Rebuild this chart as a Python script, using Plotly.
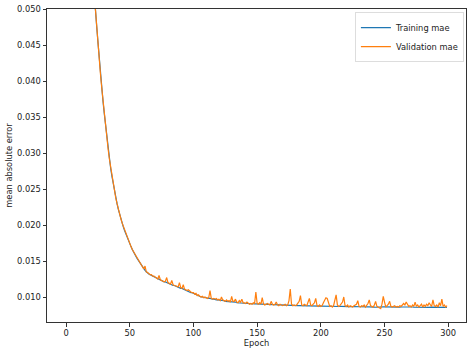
import plotly.graph_objects as go

epochs = list(range(300))

training_mae = [
    0.4800, 0.3100, 0.2400, 0.1980, 0.1700, 0.1490, 0.1330, 0.1200, 0.1100, 0.1020,
    0.0960, 0.0900, 0.0848, 0.0800, 0.0757, 0.0717, 0.0680, 0.0647, 0.0620, 0.0594,
    0.0570, 0.0545, 0.0522, 0.0500, 0.0477, 0.0455, 0.0432, 0.0410, 0.0390, 0.0372,
    0.0355, 0.0338, 0.0321, 0.0305, 0.0292, 0.0279, 0.0268, 0.0257, 0.0247, 0.0238,
    0.0230, 0.0222, 0.0215, 0.0209, 0.0203, 0.0197, 0.0192, 0.0187, 0.0182, 0.0178,
    0.0174, 0.0170, 0.0166, 0.0162, 0.0159, 0.0156, 0.0153, 0.0150, 0.0147, 0.0144,
    0.0141, 0.0139, 0.0137, 0.0135, 0.0133, 0.0132, 0.0131, 0.0130, 0.0129, 0.0128,
    0.0127, 0.0126, 0.0125, 0.0124, 0.0124, 0.0123, 0.0122, 0.0121, 0.0121, 0.0120,
    0.0119, 0.0119, 0.0118, 0.0117, 0.0116, 0.0116, 0.0115, 0.0114, 0.0114, 0.0113,
    0.0112, 0.0112, 0.0111, 0.0110, 0.0109, 0.0109, 0.0108, 0.0107, 0.0106, 0.0106,
    0.0105, 0.0104, 0.0103, 0.0102, 0.0102, 0.0101, 0.0100, 0.0100, 0.0099, 0.0099,
    0.0099, 0.0098, 0.0098, 0.0098, 0.0097, 0.0097, 0.0097, 0.0096, 0.0096, 0.0096,
    0.0096, 0.0095, 0.0095, 0.0095, 0.0095, 0.0094, 0.0094, 0.0094, 0.0094, 0.0093,
    0.0093, 0.0093, 0.0093, 0.0093, 0.0092, 0.0092, 0.0092, 0.0092, 0.0092, 0.0091,
    0.00915, 0.00913, 0.00911, 0.00910, 0.00908, 0.00907, 0.00905, 0.00904, 0.00903, 0.00902,
    0.00901, 0.00900, 0.00899, 0.00898, 0.00897, 0.00896, 0.00896, 0.00895, 0.00894, 0.00893,
    0.00892, 0.00891, 0.00891, 0.00890, 0.00889, 0.00889, 0.00888, 0.00887, 0.00887, 0.00886,
    0.00886, 0.00885, 0.00885, 0.00884, 0.00884, 0.00883, 0.00883, 0.00882, 0.00882, 0.00881,
    0.00881, 0.00880, 0.00880, 0.00880, 0.00879, 0.00879, 0.00878, 0.00878, 0.00878, 0.00877,
    0.00877, 0.00877, 0.00876, 0.00876, 0.00876, 0.00875, 0.00875, 0.00875, 0.00874, 0.00874,
    0.00874, 0.00873, 0.00873, 0.00873, 0.00873, 0.00872, 0.00872, 0.00872, 0.00871, 0.00871,
    0.00871, 0.00870, 0.00872, 0.00869, 0.00870, 0.00868, 0.00871, 0.00869, 0.00868, 0.00869,
    0.00867, 0.00868, 0.00866, 0.00868, 0.00867, 0.00866, 0.00867, 0.00865, 0.00866, 0.00867,
    0.00865, 0.00866, 0.00864, 0.00866, 0.00865, 0.00864, 0.00865, 0.00863, 0.00864, 0.00865,
    0.00863, 0.00862, 0.00860, 0.00858, 0.00857, 0.00856, 0.00857, 0.00858, 0.00860, 0.00862,
    0.00863, 0.00862, 0.00864, 0.00863, 0.00862, 0.00861, 0.00863, 0.00862, 0.00861, 0.00862,
    0.00861, 0.00862, 0.00860, 0.00861, 0.00862, 0.00860, 0.00861, 0.00860, 0.00859, 0.00861,
    0.00860, 0.00859, 0.00861, 0.00860, 0.00859, 0.00860, 0.00858, 0.00859, 0.00860, 0.00858,
    0.00859, 0.00858, 0.00860, 0.00859, 0.00858, 0.00857, 0.00859, 0.00858, 0.00857, 0.00858,
    0.00857, 0.00858, 0.00856, 0.00858, 0.00857, 0.00856, 0.00857, 0.00858, 0.00856, 0.00857,
]

validation_mae = [
    0.4200, 0.2800, 0.2250, 0.1900, 0.1640, 0.1450, 0.1300, 0.1180, 0.1085, 0.1005,
    0.0945, 0.0890, 0.0840, 0.0795, 0.0752, 0.0714, 0.0678, 0.0645, 0.0617, 0.0592,
    0.0568, 0.0544, 0.0521, 0.0499, 0.0476, 0.0454, 0.0432, 0.0410, 0.0391, 0.0372,
    0.0355, 0.0338, 0.0321, 0.0306, 0.0292, 0.0280, 0.0268, 0.0257, 0.0248, 0.0238,
    0.0230, 0.0222, 0.0215, 0.0209, 0.0203, 0.0198, 0.0192, 0.0187, 0.0183, 0.0178,
    0.0174, 0.0170, 0.0166, 0.0163, 0.0159, 0.0156, 0.0153, 0.0150, 0.0147, 0.0145,
    0.0141, 0.0139, 0.0143, 0.0135, 0.0134, 0.0132, 0.0131, 0.0131, 0.0129, 0.0129,
    0.0128, 0.0127, 0.0125, 0.0130, 0.0124, 0.0123, 0.0122, 0.0121, 0.0122, 0.0127,
    0.0120, 0.0119, 0.0118, 0.0123, 0.0117, 0.0116, 0.0116, 0.0115, 0.0114, 0.0120,
    0.0113, 0.0112, 0.0117, 0.0111, 0.0110, 0.0109, 0.0110, 0.0108, 0.0107, 0.0106,
    0.0106, 0.0104, 0.0105, 0.0102, 0.0103, 0.0101, 0.0100, 0.0101, 0.0099, 0.0100,
    0.0099, 0.0098, 0.0099, 0.0109, 0.0098, 0.0097, 0.0098, 0.0097, 0.0098, 0.0096,
    0.0097, 0.0095, 0.0100, 0.0096, 0.0095, 0.0094, 0.0096, 0.0094, 0.0095, 0.0093,
    0.0101, 0.0094, 0.0094, 0.0097, 0.0093, 0.0092, 0.0095, 0.0093, 0.0097, 0.0092,
    0.0092, 0.0091, 0.0093, 0.0091, 0.0090, 0.0091, 0.0090, 0.0092, 0.0091, 0.0107,
    0.0091, 0.0090, 0.0092, 0.0090, 0.0099, 0.0090, 0.0089, 0.0090, 0.0091, 0.0090,
    0.0089, 0.0094, 0.0090, 0.0089, 0.0090, 0.0093, 0.0089, 0.0088, 0.0090, 0.0089,
    0.0088, 0.0089, 0.0090, 0.0088, 0.0089, 0.0095, 0.0111, 0.0090, 0.0088, 0.0089,
    0.0088, 0.0089, 0.0091, 0.0094, 0.0102, 0.0089, 0.0088, 0.0090, 0.0089, 0.0088,
    0.0093, 0.0098, 0.0089, 0.0088, 0.0090, 0.0092, 0.0098, 0.0088, 0.0087, 0.0089,
    0.0087, 0.0088, 0.0092, 0.0097, 0.0099, 0.0098, 0.0091, 0.0087, 0.0088, 0.0086,
    0.0088, 0.0096, 0.0103, 0.0089, 0.0087, 0.0088, 0.0091, 0.0093, 0.0100, 0.0088,
    0.0087, 0.0089, 0.0086, 0.0088, 0.0087, 0.0086, 0.0088, 0.0089, 0.0090, 0.0095,
    0.0087, 0.0086, 0.0088, 0.0087, 0.0089, 0.0086, 0.0088, 0.0091, 0.0096, 0.0088,
    0.0087, 0.0086, 0.0089, 0.0094, 0.0087, 0.0086, 0.0085, 0.0084, 0.0090, 0.0101,
    0.0093, 0.0086, 0.0088, 0.0090, 0.0094, 0.0087, 0.0086, 0.0087, 0.0088, 0.0086,
    0.0087, 0.0086, 0.0088, 0.0087, 0.0090, 0.0091, 0.0089, 0.0093, 0.0090, 0.0087,
    0.0088, 0.0086, 0.0089, 0.0087, 0.0093, 0.0087, 0.0089, 0.0086, 0.0088, 0.0090,
    0.0086, 0.0089, 0.0087, 0.0090, 0.0088, 0.0092, 0.0089, 0.0087, 0.0096, 0.0088,
    0.0087, 0.0089, 0.0086, 0.0092, 0.0088, 0.0097, 0.0087, 0.0089, 0.0086, 0.0088,
]

x_ticks = [0, 50, 100, 150, 200, 250, 300]
y_ticks = [0.010, 0.015, 0.020, 0.025, 0.030, 0.035, 0.040, 0.045, 0.050]
y_tick_labels = ["0.010", "0.015", "0.020", "0.025", "0.030", "0.035", "0.040", "0.045", "0.050"]

fig = go.Figure()
fig.add_trace(go.Scatter(x=epochs, y=training_mae, mode="lines", name="Training mae",
                         line=dict(color="#1f77b4", width=1.2)))
fig.add_trace(go.Scatter(x=epochs, y=validation_mae, mode="lines", name="Validation mae",
                         line=dict(color="#ff7f0e", width=1.2)))

font = dict(family="DejaVu Sans", size=8.3, color="#222222")
axis_common = dict(showgrid=False, zeroline=False, showline=True, linecolor="#333333",
                   linewidth=1, mirror=True, ticks="outside", ticklen=3.5, tickwidth=1,
                   tickcolor="#333333", tickfont=font, automargin=False)

fig.update_xaxes(range=[-14.95, 313.95], tickvals=x_ticks,
                 title=dict(text="Epoch", font=font, standoff=2), **axis_common)
fig.update_yaxes(range=[0.00653, 0.050], tickvals=y_ticks, ticktext=y_tick_labels,
                 title=dict(text="mean absolute error", font=font, standoff=3), **axis_common)

fig.update_layout(
    width=474, height=354,
    margin=dict(l=47, r=8, t=9, b=32),
    paper_bgcolor="white", plot_bgcolor="white",
    font=font,
    showlegend=True,
    legend=dict(x=0.995, y=0.99, xanchor="right", yanchor="top",
                bgcolor="rgba(255,255,255,0.8)", bordercolor="#dddddd", borderwidth=1,
                font=dict(family="DejaVu Sans", size=8.3, color="#222222"),
                tracegroupgap=0, itemwidth=30),
)

fig.write_html("out.html")
